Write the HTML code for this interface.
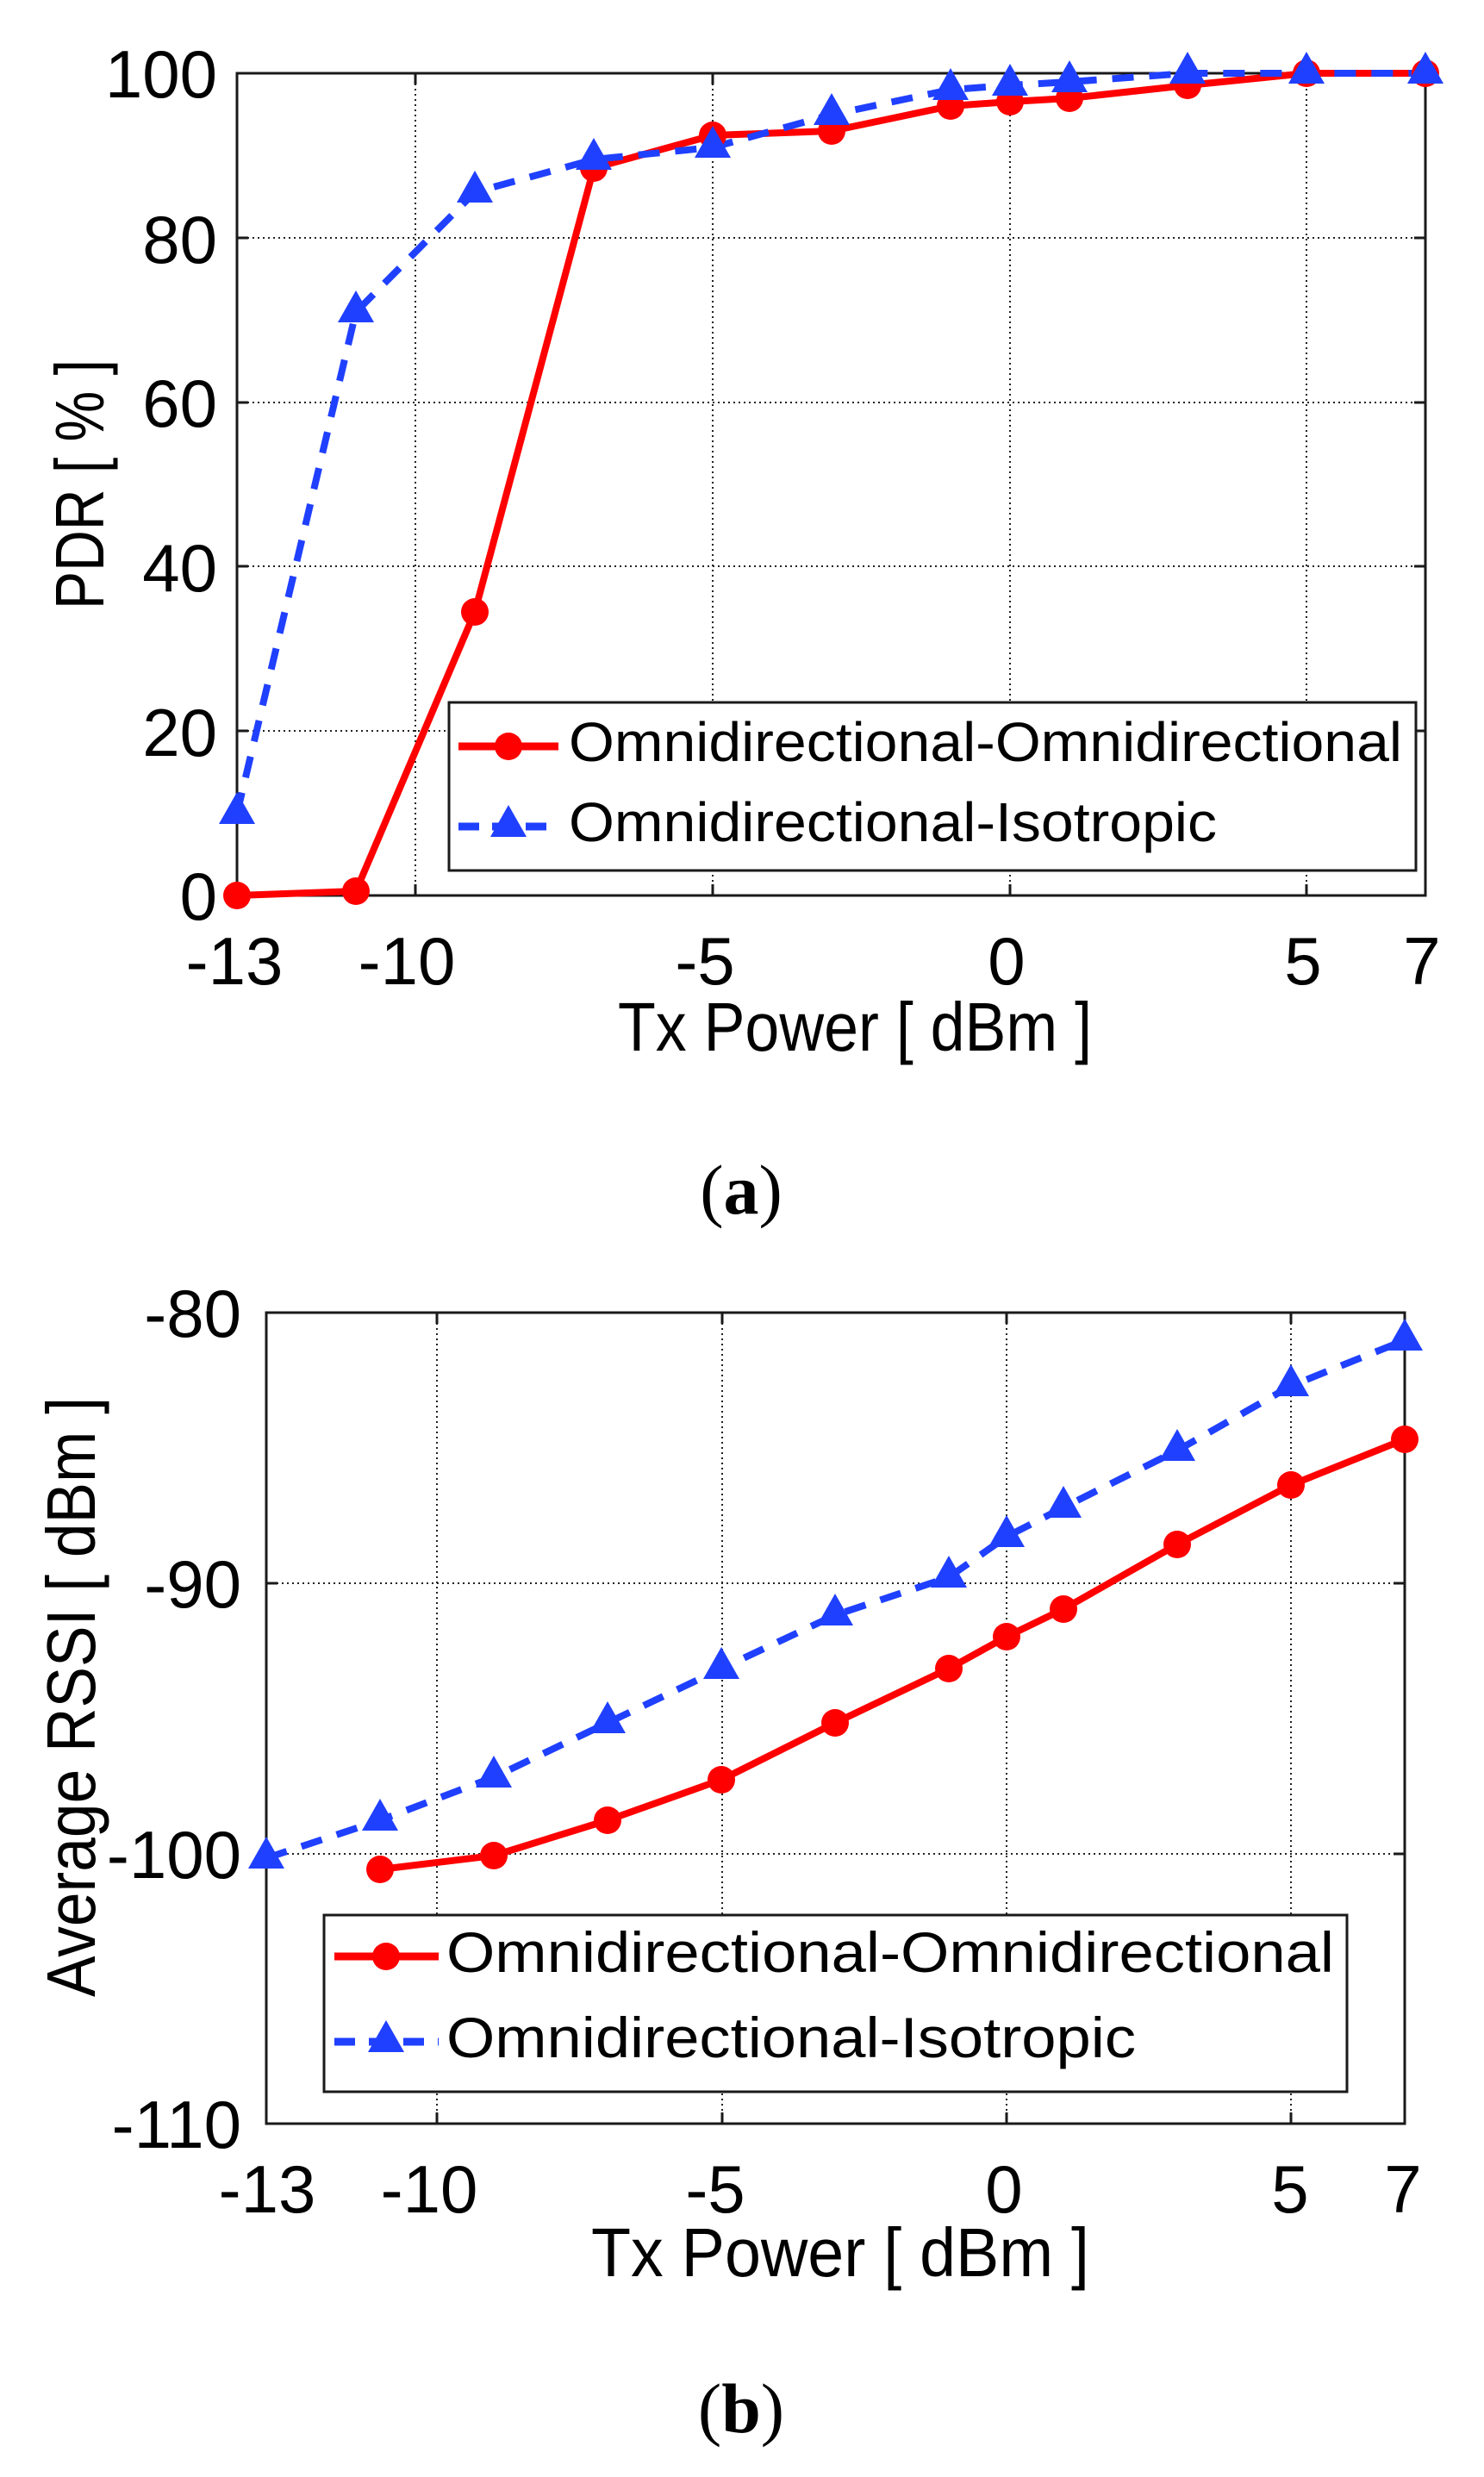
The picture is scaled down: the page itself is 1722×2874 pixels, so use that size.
<!DOCTYPE html>
<html><head><meta charset="utf-8"><style>html,body{margin:0;padding:0;background:#fff}svg{display:block}</style></head>
<body>
<svg width="1722" height="2874" viewBox="0 0 1722 2874" xmlns="http://www.w3.org/2000/svg" font-family="Liberation Sans, sans-serif">
<defs>
<g id="tri"><polygon points="0,-25 21,12 -21,12" fill="#2040ff"/></g>
</defs>
<g stroke="#222" stroke-width="2" stroke-dasharray="2,4" fill="none">
<line x1="482" y1="85" x2="482" y2="1039"/><line x1="827" y1="85" x2="827" y2="1039"/>
<line x1="1172" y1="85" x2="1172" y2="1039"/><line x1="1516" y1="85" x2="1516" y2="1039"/>
<line x1="275" y1="848" x2="1654" y2="848"/><line x1="275" y1="657" x2="1654" y2="657"/>
<line x1="275" y1="467" x2="1654" y2="467"/><line x1="275" y1="276" x2="1654" y2="276"/>
</g>
<rect x="275" y="85" width="1379" height="954" fill="none" stroke="#1a1a1a" stroke-width="3"/>
<g stroke="#1a1a1a" stroke-width="3">
<line x1="482" y1="1039" x2="482" y2="1026"/><line x1="827" y1="1039" x2="827" y2="1026"/><line x1="1172" y1="1039" x2="1172" y2="1026"/><line x1="1516" y1="1039" x2="1516" y2="1026"/>
<line x1="482" y1="85" x2="482" y2="98"/><line x1="827" y1="85" x2="827" y2="98"/><line x1="1172" y1="85" x2="1172" y2="98"/><line x1="1516" y1="85" x2="1516" y2="98"/>
<line x1="275" y1="848" x2="288" y2="848"/><line x1="275" y1="657" x2="288" y2="657"/><line x1="275" y1="467" x2="288" y2="467"/><line x1="275" y1="276" x2="288" y2="276"/>
<line x1="1654" y1="848" x2="1641" y2="848"/><line x1="1654" y1="657" x2="1641" y2="657"/><line x1="1654" y1="467" x2="1641" y2="467"/><line x1="1654" y1="276" x2="1641" y2="276"/>
</g>
<polyline fill="none" stroke="#ff0000" stroke-width="8" stroke-linejoin="round" points="275,1039 413,1034 551,710 689,195 827,157 965,152 1103,123 1172,118 1241,114 1378,99 1516,85 1654,85"/>
<polyline fill="none" stroke="#2040ff" stroke-width="8" stroke-dasharray="25,18" points="275,944 413,362 551,223 689,185 827,171 965,133 1103,104 1172,99 1241,95 1378,85 1516,85 1654,85"/>
<g fill="#ff0000">
<circle cx="275" cy="1039" r="16"/><circle cx="413" cy="1034" r="16"/><circle cx="551" cy="710" r="16"/><circle cx="689" cy="195" r="16"/><circle cx="827" cy="157" r="16"/><circle cx="965" cy="152" r="16"/><circle cx="1103" cy="123" r="16"/><circle cx="1172" cy="118" r="16"/><circle cx="1241" cy="114" r="16"/><circle cx="1378" cy="99" r="16"/><circle cx="1516" cy="85" r="16"/><circle cx="1654" cy="85" r="16"/>
</g>
<use href="#tri" x="275" y="944"/><use href="#tri" x="413" y="362"/><use href="#tri" x="551" y="223"/><use href="#tri" x="689" y="185"/><use href="#tri" x="827" y="171"/><use href="#tri" x="965" y="133"/><use href="#tri" x="1103" y="104"/><use href="#tri" x="1172" y="99"/><use href="#tri" x="1241" y="95"/><use href="#tri" x="1378" y="85"/><use href="#tri" x="1516" y="85"/><use href="#tri" x="1654" y="85"/>
<rect x="521" y="815" width="1122" height="195" fill="#fff" stroke="#1a1a1a" stroke-width="3"/>
<line x1="532" y1="866" x2="648" y2="866" stroke="#ff0000" stroke-width="9"/><circle cx="590" cy="866" r="16" fill="#ff0000"/>
<line x1="532" y1="959" x2="648" y2="959" stroke="#2040ff" stroke-width="9" stroke-dasharray="24,15"/><use href="#tri" x="590" y="959"/>
<text x="660" y="883" font-size="64" textLength="967" lengthAdjust="spacingAndGlyphs">Omnidirectional-Omnidirectional</text>
<text x="660" y="976" font-size="64" textLength="752" lengthAdjust="spacingAndGlyphs">Omnidirectional-Isotropic</text>
<g font-size="78" text-anchor="end">
<text x="252" y="113">100</text><text x="252" y="305">80</text><text x="252" y="495">60</text><text x="252" y="686">40</text><text x="252" y="877">20</text><text x="252" y="1067">0</text>
</g>
<g font-size="78" text-anchor="middle">
<text x="272" y="1142">-13</text><text x="472" y="1142">-10</text><text x="818" y="1142">-5</text><text x="1168" y="1142">0</text><text x="1512" y="1142">5</text><text x="1650" y="1142">7</text>
</g>
<text x="992" y="1219" font-size="80" text-anchor="middle" textLength="550" lengthAdjust="spacingAndGlyphs">Tx Power [ dBm ]</text>
<text transform="translate(120,562) rotate(-90)" font-size="80" text-anchor="middle" textLength="290" lengthAdjust="spacingAndGlyphs">PDR [ % ]</text>
<text x="860" y="1408" font-size="82" text-anchor="middle" font-family="Liberation Serif, serif">(<tspan font-weight="bold">a</tspan>)</text>
<g stroke="#222" stroke-width="2" stroke-dasharray="2,4" fill="none">
<line x1="507" y1="1523" x2="507" y2="2464"/><line x1="838" y1="1523" x2="838" y2="2464"/>
<line x1="1168" y1="1523" x2="1168" y2="2464"/><line x1="1498" y1="1523" x2="1498" y2="2464"/>
<line x1="309" y1="1837" x2="1630" y2="1837"/><line x1="309" y1="2151" x2="1630" y2="2151"/>
</g>
<rect x="309" y="1523" width="1321" height="941" fill="none" stroke="#1a1a1a" stroke-width="3"/>
<g stroke="#1a1a1a" stroke-width="3">
<line x1="507" y1="2464" x2="507" y2="2451"/><line x1="838" y1="2464" x2="838" y2="2451"/><line x1="1168" y1="2464" x2="1168" y2="2451"/><line x1="1498" y1="2464" x2="1498" y2="2451"/>
<line x1="507" y1="1523" x2="507" y2="1536"/><line x1="838" y1="1523" x2="838" y2="1536"/><line x1="1168" y1="1523" x2="1168" y2="1536"/><line x1="1498" y1="1523" x2="1498" y2="1536"/>
<line x1="309" y1="1837" x2="322" y2="1837"/><line x1="309" y1="2151" x2="322" y2="2151"/>
<line x1="1630" y1="1837" x2="1617" y2="1837"/><line x1="1630" y1="2151" x2="1617" y2="2151"/>
</g>
<polyline fill="none" stroke="#ff0000" stroke-width="8" stroke-linejoin="round" points="441,2169 573,2153 705,2112 837,2065 969,1999 1101,1936 1168,1899 1234,1867 1366,1792 1498,1723 1630,1670"/>
<polyline fill="none" stroke="#2040ff" stroke-width="8" stroke-dasharray="25,18" points="309,2156 441,2112 573,2062 705,1999 837,1936 969,1874 1101,1830 1168,1783 1234,1749 1366,1683 1498,1608 1630,1555"/>
<g fill="#ff0000">
<circle cx="441" cy="2169" r="16"/><circle cx="573" cy="2153" r="16"/><circle cx="705" cy="2112" r="16"/><circle cx="837" cy="2065" r="16"/><circle cx="969" cy="1999" r="16"/><circle cx="1101" cy="1936" r="16"/><circle cx="1168" cy="1899" r="16"/><circle cx="1234" cy="1867" r="16"/><circle cx="1366" cy="1792" r="16"/><circle cx="1498" cy="1723" r="16"/><circle cx="1630" cy="1670" r="16"/>
</g>
<use href="#tri" x="309" y="2156"/><use href="#tri" x="441" y="2112"/><use href="#tri" x="573" y="2062"/><use href="#tri" x="705" y="1999"/><use href="#tri" x="837" y="1936"/><use href="#tri" x="969" y="1874"/><use href="#tri" x="1101" y="1830"/><use href="#tri" x="1168" y="1783"/><use href="#tri" x="1234" y="1749"/><use href="#tri" x="1366" y="1683"/><use href="#tri" x="1498" y="1608"/><use href="#tri" x="1630" y="1555"/>
<rect x="376" y="2222" width="1187" height="205" fill="#fff" stroke="#1a1a1a" stroke-width="3"/>
<line x1="388" y1="2270" x2="509" y2="2270" stroke="#ff0000" stroke-width="9"/><circle cx="448" cy="2270" r="16" fill="#ff0000"/>
<line x1="388" y1="2369" x2="509" y2="2369" stroke="#2040ff" stroke-width="9" stroke-dasharray="24,16"/><use href="#tri" x="448" y="2369"/>
<text x="518" y="2288" font-size="66" textLength="1030" lengthAdjust="spacingAndGlyphs">Omnidirectional-Omnidirectional</text>
<text x="518" y="2387" font-size="66" textLength="800" lengthAdjust="spacingAndGlyphs">Omnidirectional-Isotropic</text>
<g font-size="78" text-anchor="end">
<text x="280" y="1551">-80</text><text x="280" y="1865">-90</text><text x="280" y="2179">-100</text><text x="280" y="2492">-110</text>
</g>
<g font-size="78" text-anchor="middle">
<text x="310" y="2567">-13</text><text x="498" y="2567">-10</text><text x="830" y="2567">-5</text><text x="1165" y="2567">0</text><text x="1497" y="2567">5</text><text x="1628" y="2567">7</text>
</g>
<text x="975" y="2641" font-size="80" text-anchor="middle" textLength="578" lengthAdjust="spacingAndGlyphs">Tx Power [ dBm ]</text>
<text transform="translate(110,1969) rotate(-90)" font-size="80" text-anchor="middle" textLength="696" lengthAdjust="spacingAndGlyphs">Average RSSI [ dBm ]</text>
<text x="860" y="2822" font-size="82" text-anchor="middle" font-family="Liberation Serif, serif">(<tspan font-weight="bold">b</tspan>)</text>
</svg>
</body></html>
